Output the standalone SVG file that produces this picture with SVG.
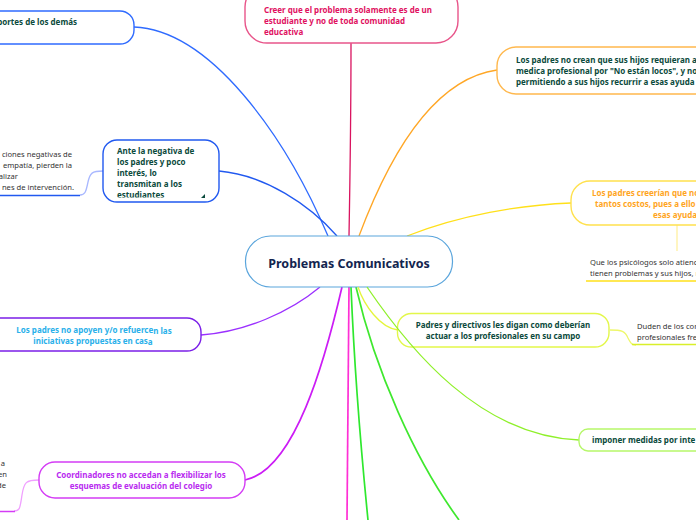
<svg xmlns="http://www.w3.org/2000/svg" width="696" height="520" viewBox="0 0 696 520">
<defs>
<style>
text{font-family:"Noto Sans","Open Sans",sans-serif;font-size:8px}
.b{font-weight:700;fill:#0b4a3c}
.s{fill:#333;font-size:7.600px}
.m{text-anchor:middle}
.e{text-anchor:end}
.n{fill:#fff;stroke-width:1.4}
.c{fill:none;stroke-width:1.3}
.t{stroke-width:1.7}
.u{fill:none;stroke-width:1.5}
</style>
<clipPath id="ante"><rect x="104" y="141" width="114" height="56.500"/></clipPath>
</defs>
<rect width="696" height="520" fill="#fff"/>
<g id="connectors">
<path class="c" stroke="#2f6bff" d="M134 27C210 30 285 135 328 236"/>
<path class="c" stroke="#2159f0" d="M219 171C265 175 310 205 337 236"/>
<path class="c" stroke="#d9135f" d="M351 43C351 110 350 180 349 236"/>
<path class="c" stroke="#ffa726" d="M497 70C440 78 395 140 359 236"/>
<path class="c" stroke="#ffe01a" d="M571 203C520 205 460 215 407 236"/>
<path class="c" stroke="#fff0a0" d="M677 225V251"/>
<path class="c" stroke="#9b30ff" d="M201 335C245 332 290 312 320 287"/>
<path class="c t" stroke="#cc1cf5" d="M245 480C295 470 325 360 342 287"/>
<path class="c" stroke="#f0a0ff" d="M39 480C26 480 24 482 22 495C20 508 20 511 14 511"/>
<path class="c" stroke="#a9b8ff" d="M103 171C92 171 90 173 88 182C86 192 85 195 80 195"/>
<path class="c t" stroke="#ff2fd5" d="M349 287C348 360 348 440 347 520"/>
<path class="c t" stroke="#2ee82e" d="M351 287C354 360 361 450 368 520"/>
<path class="c t" stroke="#3fe82e" d="M356 287C375 370 415 460 459 520"/>
<path class="c" stroke="#eef76a" d="M610 330C622 330 625 331 628 338C631 344 632 345 636 345"/>
</g>
<g id="root"><rect x="245.500" y="236" width="207" height="51" rx="25" fill="#fff" stroke="#5aa5dc" stroke-width="1.200"/><text x="349" y="268" text-anchor="middle" font-weight="700" fill="#13254f" style="font-size:12.500px">Problemas Comunicativos</text></g>
<g id="n-aportes"><rect class="n" x="-40" y="11" width="174" height="33" rx="14" stroke="#2f6bff"/><text class="b e" x="77" y="25">portes de los demás</text></g>
<g id="n-ante"><rect class="n" x="103" y="140" width="116" height="62" rx="14" stroke="#2159f0"/><g clip-path="url(#ante)"><text class="b" x="117" y="154">Ante la negativa de</text><text class="b" x="117" y="165">los padres y poco</text><text class="b" x="117" y="176">interés, lo</text><text class="b" x="117" y="187">transmitan a los</text><text class="b" x="117" y="198">estudiantes</text></g><path d="M201 198h4v-4z" fill="#0b4a3c"/></g>
<g id="n-ante-nota"><text class="s e" x="72" y="157">ciones negativas de</text><text class="s e" x="72" y="168">empatía, pierden la</text><text class="s e" x="18" y="179">alizar</text><text class="s e" x="74" y="190">nes de intervención.</text><path class="u" d="M-5 195.500H80" stroke="#2159f0"/></g>
<g id="n-creer"><rect class="n" x="245" y="-15" width="213" height="58" rx="22" stroke="#e8558a"/><text x="264" y="13" style="fill:#e0115f;font-weight:700">Creer que el problema solamente es de un</text><text x="264" y="24" style="fill:#e0115f;font-weight:700">estudiante y no de toda comunidad</text><text x="264" y="35" style="fill:#e0115f;font-weight:700">educativa</text></g>
<g id="n-locos"><rect class="n" x="497" y="47" width="240" height="47" rx="19" stroke="#ffb84d"/><text class="b" x="516" y="63">Los padres no crean que sus hijos requieran a</text><text class="b" x="516" y="74">medica profesional por "No están locos", y no</text><text class="b" x="516" y="85">permitiendo a sus hijos recurrir a esas ayuda</text></g>
<g id="n-costos"><rect class="n" x="571" y="181" width="240" height="44" rx="19" stroke="#ffe14d"/><text class="b" x="592" y="196" style="fill:#ffa51e">Los padres creerían que no</text><text class="b" x="595" y="207" style="fill:#ffa51e">tantos costos, pues a ello</text><text class="b" x="653" y="218" style="fill:#ffa51e">esas ayuda</text></g>
<g id="n-psico"><text class="s" x="590" y="265">Que los psicólogos solo atiend</text><text class="s" x="590" y="276">tienen problemas y sus hijos, n</text><path class="u" d="M586 281H696" stroke="#ffe01a"/></g>
<g id="n-apoyen"><rect class="n" x="-30" y="318" width="231" height="33" rx="14" stroke="#7b1fe8"/><text class="b m" x="94" y="333" style="fill:#29b0ea">Los padres no apoyen y/o refuerce<tspan dy="0.600">n las</tspan></text><text class="b m" x="93" y="344" style="fill:#29b0ea">iniciativas propuestas en cas<tspan dy="0.600">a</tspan></text></g>
<g id="n-coord"><rect class="n" x="39" y="462" width="206" height="36" rx="16" stroke="#d43cf5"/><text class="b m" x="141" y="478" style="fill:#b92cf0">Coordinadores no accedan a flexibilizar los</text><text class="b m" x="141" y="489" style="fill:#b92cf0">esquemas de evaluación del colegio</text></g>
<g id="n-coord-nota"><text class="s e" x="5" y="466">a</text><text class="s e" x="7" y="477">en</text><text class="s e" x="6" y="488">de</text><path class="u" d="M-5 511.500H15" stroke="#d43cf5"/></g>
<g id="n-padres"><rect x="397.500" y="313.500" width="211.500" height="33.500" rx="14" fill="#fff" fill-opacity="0" stroke="#e3f74a" stroke-width="1.400"/><text class="b m" x="503" y="328">Padres y directivos les digan como deberían</text><text class="b m" x="503" y="339">actuar a los profesionales en su campo</text></g>
<g id="connectors-over"><path class="c" stroke="#e5f53a" d="M358 287C364 305 380 328 398 330"/><path class="c" stroke="#8ff02a" d="M367 287C410 350 480 436 579 440"/></g>
<g id="n-duden"><text class="s" x="637" y="329">Duden de los cor</text><text class="s" x="637" y="340">profesionales fre</text><path class="u" d="M632 344.500H696" stroke="#d9ef2a"/></g>
<g id="n-imponer"><rect class="n" x="579" y="429" width="160" height="22" rx="9" stroke="#b6f76a"/><text class="b" x="592" y="443">imponer medidas por inte</text></g>
</svg>
